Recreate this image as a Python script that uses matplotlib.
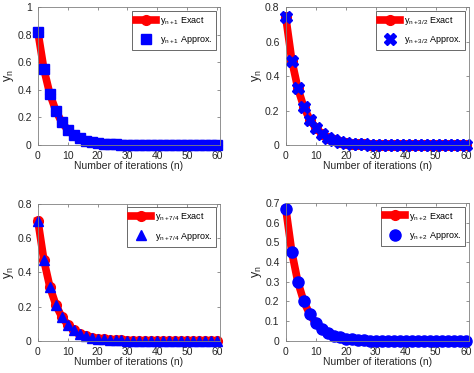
import matplotlib
matplotlib.use("Agg")
import matplotlib.pyplot as plt

plt.rcParams['font.family'] = ['Liberation Sans', 'DejaVu Sans']
plt.rcParams['mathtext.fontset'] = 'custom'
plt.rcParams['mathtext.rm'] = 'Liberation Sans'
plt.rcParams['mathtext.it'] = 'Liberation Sans'

# iteration numbers
n = list(range(0, 61, 2))

# values
y1 = [0.82, 0.55, 0.37, 0.25, 0.165, 0.11, 0.074, 0.05, 0.033, 0.022, 0.015,
      0.010, 0.007, 0.005, 0.003, 0.002, 0.0015, 0.001, 0.0007, 0.0005, 0.0003,
      0.0002, 0.0001, 0, 0, 0, 0, 0, 0, 0, 0]
y2 = [0.74, 0.49, 0.33, 0.22, 0.148, 0.099, 0.066, 0.044, 0.030, 0.020, 0.013,
      0.009, 0.006, 0.004, 0.003, 0.002, 0.0013, 0.0009, 0.0006, 0.0004, 0.0003,
      0.0002, 0.0001, 0, 0, 0, 0, 0, 0, 0, 0]
y3 = [0.70, 0.47, 0.315, 0.21, 0.14, 0.094, 0.063, 0.042, 0.028, 0.019, 0.013,
      0.009, 0.006, 0.004, 0.003, 0.002, 0.0012, 0.0008, 0.0005, 0.0004, 0.0002,
      0.0002, 0.0001, 0, 0, 0, 0, 0, 0, 0, 0]
y4 = [0.67, 0.45, 0.30, 0.20, 0.135, 0.09, 0.06, 0.04, 0.027, 0.018, 0.012,
      0.008, 0.005, 0.004, 0.002, 0.0016, 0.001, 0.0007, 0.0005, 0.0003, 0.0002,
      0.0001, 0.0001, 0, 0, 0, 0, 0, 0, 0, 0]

subs = ['n+1', 'n+3/2', 'n+7/4', 'n+2']
markers = ['s', 'X', '^', 'o']
msizes = [7, 8, 7.5, 8]
ytops = [1.0, 0.8, 0.8, 0.7]
ysteps = [0.2, 0.2, 0.2, 0.1]
series = [y1, y2, y3, y4]

# axes boxes in figure fractions
boxes = [[0.080, 0.611, 0.384, 0.370],
         [0.603, 0.611, 0.386, 0.370],
         [0.080, 0.086, 0.384, 0.368],
         [0.603, 0.086, 0.386, 0.370]]

fig = plt.figure(figsize=(4.74, 3.73), dpi=100)
grey = '#808080'
txt = '#262626'

for i in range(4):
    ax = fig.add_axes(boxes[i])
    ax.plot(n, series[i], color='red', lw=5.5, marker='o', ms=7, clip_on=False,
            label=r'$\mathregular{y_{%s}}$ Exact' % subs[i])
    ax.plot(n, series[i], color='blue', ls='none', marker=markers[i],
            ms=msizes[i], clip_on=False,
            label=r'$\mathregular{y_{%s}}$ Approx.' % subs[i])
    ax.set_xlim(0, 61)
    ax.set_ylim(0, ytops[i])
    ax.set_xticks(range(0, 61, 10))
    k = round(ytops[i] / ysteps[i])
    ax.set_yticks([round(j * ysteps[i], 1) for j in range(k + 1)])
    ax.set_yticklabels(['%g' % round(j * ysteps[i], 1) for j in range(k + 1)])
    ax.tick_params(direction='in', top=True, right=True, length=2.5,
                   width=0.6, colors=grey, labelcolor=txt, labelsize=7.5, pad=4.5)
    for s in ax.spines.values():
        s.set_color(grey)
        s.set_linewidth(0.6)
    ax.set_xlabel('Number of iterations (n)', fontsize=7.5, color=txt, labelpad=0)
    ax.set_ylabel(r'$\mathregular{y_n}$', fontsize=9, color=txt, labelpad=1)
    leg = ax.legend(loc='upper right', fontsize=6.5, frameon=True, fancybox=False,
                    edgecolor=txt, handlelength=2.2, borderpad=0.45,
                    labelspacing=0.7, handletextpad=0.4, borderaxespad=0.4)
    leg.get_frame().set_linewidth(0.6)
    leg.set_zorder(5)

fig.savefig('out.png', dpi=100)
